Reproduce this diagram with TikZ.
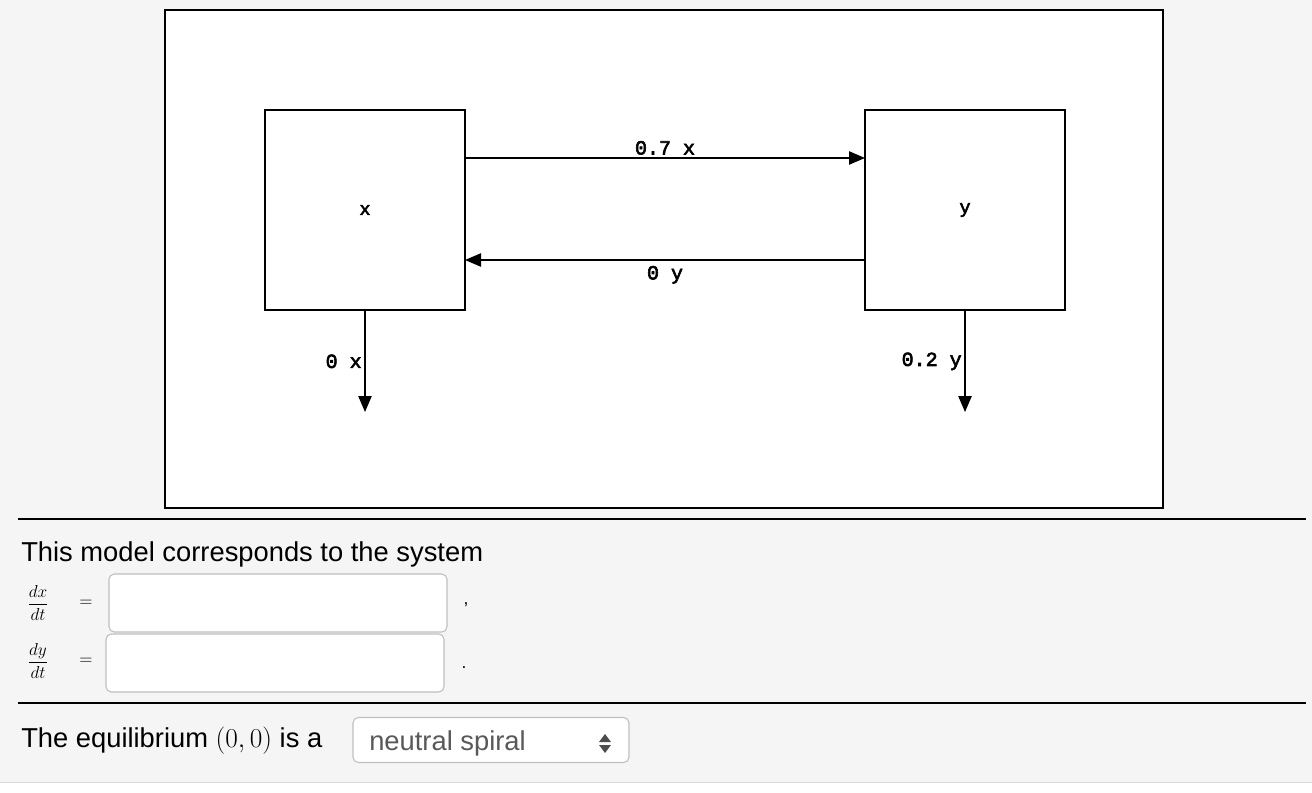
\documentclass[tikz,border=0pt]{standalone}
\usepackage{fix-cm}
\usepackage{fontspec}
\setmainfont{Liberation Sans}
\newfontfamily\pix{Liberation Mono}[FakeBold=3]
\usetikzlibrary{arrows.meta}
\begin{document}
\begin{tikzpicture}[x=0.75pt,y=-0.75pt,
  comp/.style={draw,line width=1pt,minimum width=150pt,minimum height=150pt,inner sep=0,font=\pix\fontsize{14}{14}\selectfont},
  flow/.style={line width=1pt,-{Triangle[length=12pt,width=10pt]}},
  lab/.style={font=\pix\fontsize{15}{15}\selectfont,inner sep=1pt},
  field/.style={draw=gray!50,rounded corners=4pt,fill=white,line width=0.8pt},
  txt/.style={font=\fontsize{20.5}{22}\selectfont,anchor=base west,inner sep=0},
  mth/.style={font=\fontsize{13}{15}\selectfont}]
\useasboundingbox (0,0) rectangle (1312,792);
\fill[gray!8] (0,0) rectangle (1312,782);
\draw[gray!30] (0,782) -- (1312,782);
\node[draw,line width=1.2pt,fill=white,minimum width=748.5pt,minimum height=373.5pt,inner sep=0] (frame) at (664,259) {};
\node[comp] (X) at (365,210) {x};
\node[comp] (Y) at (965,210) {y};
\coordinate (xa) at (465,158); \coordinate (ya) at (865,158);
\coordinate (yb) at (865,260); \coordinate (xb) at (465,260);
\draw[flow] (xa) -- (ya) node[lab,midway,above=1pt] {0.7 x};
\draw[flow] (yb) -- (xb) node[lab,midway,below=3pt] {0 y};
\coordinate (xo) at (365,412); \coordinate (yo) at (965,412);
\draw[flow] (X.south) -- (xo) node[lab,pos=0.5,left=1pt] {0 x};
\draw[flow] (Y.south) -- (yo) node[lab,pos=0.5,left=1pt] {0.2 y};
\draw[line width=0.8pt] (18,519) -- (1306,519);
\draw[line width=0.8pt] (18,703) -- (1306,703);
\node[txt] (t1) at (21,561) {This model corresponds to the system};
\node[mth] (f1) at (38,603) {$\displaystyle\frac{dx}{dt}$};
\node[mth] (e1) at (86,603) {$=$};
\node[field,minimum width=253.5pt,minimum height=43.5pt] (b1) at (278,603) {};
\node[mth] (c1) at (466,605) {,};
\node[mth] (f2) at (38,661) {$\displaystyle\frac{dy}{dt}$};
\node[mth] (e2) at (86,661) {$=$};
\node[field,minimum width=253.5pt,minimum height=43.5pt] (b2) at (275,663) {};
\node[mth] (p2) at (464,668) {.};
\node[txt] (t2) at (21,747) {The equilibrium $(0,0)$ is a};
\node[field,minimum width=207pt,minimum height=33.75pt] (dd) at (491,740) {};
\node[txt,text=gray!70!black] (dt) at (369,750) {neutral spiral};
\fill[gray!60!black] (611,742) -- (605,734) -- (599,742) -- cycle;
\fill[gray!60!black] (611,745) -- (605,753) -- (599,745) -- cycle;
\end{tikzpicture}
\end{document}
